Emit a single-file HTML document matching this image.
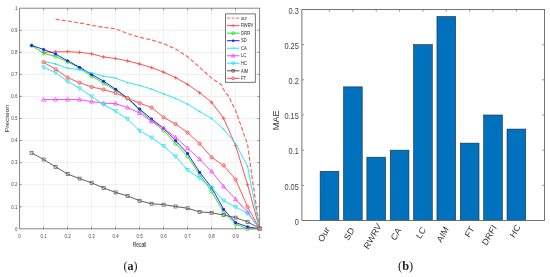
<!DOCTYPE html><html><head><meta charset="utf-8"><title>Figure</title>
<style>html,body{margin:0;padding:0;background:#fff}svg{display:block}text{font-family:"Liberation Sans",sans-serif}.cap{font-family:"Liberation Serif",serif}</style></head><body>
<svg width="550" height="277" viewBox="0 0 550 277">
<defs><filter id="b" x="-5%" y="-5%" width="110%" height="110%"><feGaussianBlur stdDeviation="0.35"/></filter></defs><rect width="550" height="277" fill="#fff"/>
<g id="left" filter="url(#b)">
<path d="M43.60 8.2V228.8M19.6 206.74H259.6M67.60 8.2V228.8M19.6 184.68H259.6M91.60 8.2V228.8M19.6 162.62H259.6M115.60 8.2V228.8M19.6 140.56H259.6M139.60 8.2V228.8M19.6 118.50H259.6M163.60 8.2V228.8M19.6 96.44H259.6M187.60 8.2V228.8M19.6 74.38H259.6M211.60 8.2V228.8M19.6 52.32H259.6M235.60 8.2V228.8M19.6 30.26H259.6" stroke="#e6e6e6" stroke-width="0.6" fill="none"/>
<polyline points="55.60,19.23 67.60,20.99 79.60,22.98 91.60,25.19 103.60,27.39 115.60,28.72 127.60,33.57 139.60,37.32 151.60,39.97 163.60,43.61 175.60,49.10 187.60,56.73 199.60,67.32 211.60,78.13 221.44,84.97 223.60,89.49 228.64,96.44 235.60,110.56 247.60,144.53 252.40,179.50 259.60,228.80" fill="none" stroke="#ff5c5c" stroke-width="1.15" stroke-linejoin="round" stroke-dasharray="4 2.2"/>
<polyline points="43.60,52.32 55.60,51.88 67.60,51.66 79.60,52.32 91.60,53.86 103.60,56.95 115.60,58.50 127.60,60.92 139.60,64.01 151.60,67.61 163.60,72.17 175.60,77.69 187.60,84.42 199.60,92.69 211.60,102.29 223.60,118.28 235.60,145.50 247.60,184.68 259.60,228.80" fill="none" stroke="#ff4a4a" stroke-width="0.95" stroke-linejoin="round"/>
<path d="M41.70 52.32H45.50M43.60 50.42V54.22" stroke="#ff4a4a" stroke-width="0.8" fill="none"/><path d="M53.70 51.88H57.50M55.60 49.98V53.78" stroke="#ff4a4a" stroke-width="0.8" fill="none"/><path d="M65.70 51.66H69.50M67.60 49.76V53.56" stroke="#ff4a4a" stroke-width="0.8" fill="none"/><path d="M77.70 52.32H81.50M79.60 50.42V54.22" stroke="#ff4a4a" stroke-width="0.8" fill="none"/><path d="M89.70 53.86H93.50M91.60 51.96V55.76" stroke="#ff4a4a" stroke-width="0.8" fill="none"/><path d="M101.70 56.95H105.50M103.60 55.05V58.85" stroke="#ff4a4a" stroke-width="0.8" fill="none"/><path d="M113.70 58.50H117.50M115.60 56.60V60.40" stroke="#ff4a4a" stroke-width="0.8" fill="none"/><path d="M125.70 60.92H129.50M127.60 59.02V62.82" stroke="#ff4a4a" stroke-width="0.8" fill="none"/><path d="M137.70 64.01H141.50M139.60 62.11V65.91" stroke="#ff4a4a" stroke-width="0.8" fill="none"/><path d="M149.70 67.61H153.50M151.60 65.71V69.51" stroke="#ff4a4a" stroke-width="0.8" fill="none"/><path d="M161.70 72.17H165.50M163.60 70.27V74.07" stroke="#ff4a4a" stroke-width="0.8" fill="none"/><path d="M173.70 77.69H177.50M175.60 75.79V79.59" stroke="#ff4a4a" stroke-width="0.8" fill="none"/><path d="M185.70 84.42H189.50M187.60 82.52V86.32" stroke="#ff4a4a" stroke-width="0.8" fill="none"/><path d="M197.70 92.69H201.50M199.60 90.79V94.59" stroke="#ff4a4a" stroke-width="0.8" fill="none"/><path d="M209.70 102.29H213.50M211.60 100.39V104.19" stroke="#ff4a4a" stroke-width="0.8" fill="none"/><path d="M221.70 118.28H225.50M223.60 116.38V120.18" stroke="#ff4a4a" stroke-width="0.8" fill="none"/><path d="M233.70 145.50H237.50M235.60 143.60V147.40" stroke="#ff4a4a" stroke-width="0.8" fill="none"/><path d="M245.70 184.68H249.50M247.60 182.78V186.58" stroke="#ff4a4a" stroke-width="0.8" fill="none"/><path d="M257.70 228.80H261.50M259.60 226.90V230.70" stroke="#ff4a4a" stroke-width="0.8" fill="none"/>
<polyline points="31.60,45.48 43.60,53.20 55.60,56.51 67.60,61.81 79.60,68.20 91.60,76.01 103.60,83.20 115.60,90.26 127.60,98.20 139.60,110.34 151.60,120.93 163.60,130.41 175.60,143.65 187.60,156.38 199.60,174.53 211.60,191.30 223.60,212.25 235.60,224.08 247.60,228.80 259.60,228.80" fill="none" stroke="#20e020" stroke-width="0.95" stroke-linejoin="round"/>
<circle cx="31.60" cy="45.48" r="1.70" stroke="#20e020" stroke-width="0.8" fill="none"/><circle cx="43.60" cy="53.20" r="1.70" stroke="#20e020" stroke-width="0.8" fill="none"/><circle cx="55.60" cy="56.51" r="1.70" stroke="#20e020" stroke-width="0.8" fill="none"/><circle cx="67.60" cy="61.81" r="1.70" stroke="#20e020" stroke-width="0.8" fill="none"/><circle cx="79.60" cy="68.20" r="1.70" stroke="#20e020" stroke-width="0.8" fill="none"/><circle cx="91.60" cy="76.01" r="1.70" stroke="#20e020" stroke-width="0.8" fill="none"/><circle cx="103.60" cy="83.20" r="1.70" stroke="#20e020" stroke-width="0.8" fill="none"/><circle cx="115.60" cy="90.26" r="1.70" stroke="#20e020" stroke-width="0.8" fill="none"/><circle cx="127.60" cy="98.20" r="1.70" stroke="#20e020" stroke-width="0.8" fill="none"/><circle cx="139.60" cy="110.34" r="1.70" stroke="#20e020" stroke-width="0.8" fill="none"/><circle cx="151.60" cy="120.93" r="1.70" stroke="#20e020" stroke-width="0.8" fill="none"/><circle cx="163.60" cy="130.41" r="1.70" stroke="#20e020" stroke-width="0.8" fill="none"/><circle cx="175.60" cy="143.65" r="1.70" stroke="#20e020" stroke-width="0.8" fill="none"/><circle cx="187.60" cy="156.38" r="1.70" stroke="#20e020" stroke-width="0.8" fill="none"/><circle cx="199.60" cy="174.53" r="1.70" stroke="#20e020" stroke-width="0.8" fill="none"/><circle cx="211.60" cy="191.30" r="1.70" stroke="#20e020" stroke-width="0.8" fill="none"/><circle cx="223.60" cy="212.25" r="1.70" stroke="#20e020" stroke-width="0.8" fill="none"/><circle cx="235.60" cy="224.08" r="1.70" stroke="#20e020" stroke-width="0.8" fill="none"/><circle cx="247.60" cy="228.80" r="1.70" stroke="#20e020" stroke-width="0.8" fill="none"/><circle cx="259.60" cy="228.80" r="1.70" stroke="#20e020" stroke-width="0.8" fill="none"/>
<polyline points="31.60,45.48 43.60,49.45 55.60,54.08 67.60,60.79 79.60,67.19 91.60,74.38 103.60,81.22 115.60,89.16 127.60,98.20 139.60,109.08 151.60,119.10 163.60,128.21 175.60,140.56 187.60,153.58 199.60,172.19 211.60,187.66 223.60,209.17 235.60,222.62 247.60,226.81 259.60,228.80" fill="none" stroke="#2020ee" stroke-width="0.95" stroke-linejoin="round"/>
<circle cx="31.60" cy="45.48" r="1.50" fill="#2020ee"/><circle cx="43.60" cy="49.45" r="1.50" fill="#2020ee"/><circle cx="55.60" cy="54.08" r="1.50" fill="#2020ee"/><circle cx="67.60" cy="60.79" r="1.50" fill="#2020ee"/><circle cx="79.60" cy="67.19" r="1.50" fill="#2020ee"/><circle cx="91.60" cy="74.38" r="1.50" fill="#2020ee"/><circle cx="103.60" cy="81.22" r="1.50" fill="#2020ee"/><circle cx="115.60" cy="89.16" r="1.50" fill="#2020ee"/><circle cx="127.60" cy="98.20" r="1.50" fill="#2020ee"/><circle cx="139.60" cy="109.08" r="1.50" fill="#2020ee"/><circle cx="151.60" cy="119.10" r="1.50" fill="#2020ee"/><circle cx="163.60" cy="128.21" r="1.50" fill="#2020ee"/><circle cx="175.60" cy="140.56" r="1.50" fill="#2020ee"/><circle cx="187.60" cy="153.58" r="1.50" fill="#2020ee"/><circle cx="199.60" cy="172.19" r="1.50" fill="#2020ee"/><circle cx="211.60" cy="187.66" r="1.50" fill="#2020ee"/><circle cx="223.60" cy="209.17" r="1.50" fill="#2020ee"/><circle cx="235.60" cy="222.62" r="1.50" fill="#2020ee"/><circle cx="247.60" cy="226.81" r="1.50" fill="#2020ee"/><circle cx="259.60" cy="228.80" r="1.50" fill="#2020ee"/>
<polyline points="43.60,61.36 55.60,64.01 67.60,68.20 79.60,69.75 91.60,72.84 103.60,76.14 115.60,78.13 127.60,82.70 139.60,85.41 151.60,89.16 163.60,93.79 175.60,98.43 187.60,104.16 199.60,111.44 211.60,118.50 223.60,129.20 235.60,143.65 247.60,166.37 259.60,228.80" fill="none" stroke="#20e8f0" stroke-width="0.95" stroke-linejoin="round"/>
<circle cx="43.60" cy="61.36" r="0.90" fill="#20e8f0"/><circle cx="55.60" cy="64.01" r="0.90" fill="#20e8f0"/><circle cx="67.60" cy="68.20" r="0.90" fill="#20e8f0"/><circle cx="79.60" cy="69.75" r="0.90" fill="#20e8f0"/><circle cx="91.60" cy="72.84" r="0.90" fill="#20e8f0"/><circle cx="103.60" cy="76.14" r="0.90" fill="#20e8f0"/><circle cx="115.60" cy="78.13" r="0.90" fill="#20e8f0"/><circle cx="127.60" cy="82.70" r="0.90" fill="#20e8f0"/><circle cx="139.60" cy="85.41" r="0.90" fill="#20e8f0"/><circle cx="151.60" cy="89.16" r="0.90" fill="#20e8f0"/><circle cx="163.60" cy="93.79" r="0.90" fill="#20e8f0"/><circle cx="175.60" cy="98.43" r="0.90" fill="#20e8f0"/><circle cx="187.60" cy="104.16" r="0.90" fill="#20e8f0"/><circle cx="199.60" cy="111.44" r="0.90" fill="#20e8f0"/><circle cx="211.60" cy="118.50" r="0.90" fill="#20e8f0"/><circle cx="223.60" cy="129.20" r="0.90" fill="#20e8f0"/><circle cx="235.60" cy="143.65" r="0.90" fill="#20e8f0"/><circle cx="247.60" cy="166.37" r="0.90" fill="#20e8f0"/><circle cx="259.60" cy="228.80" r="0.90" fill="#20e8f0"/>
<polyline points="43.60,99.64 55.60,99.53 67.60,99.53 79.60,99.64 91.60,101.62 103.60,103.17 115.60,103.61 127.60,107.58 139.60,113.10 151.60,121.26 163.60,128.21 175.60,137.43 187.60,148.19 199.60,159.09 211.60,171.44 223.60,186.44 235.60,199.15 247.60,212.25 259.60,228.80" fill="none" stroke="#ff40ff" stroke-width="0.95" stroke-linejoin="round"/>
<path d="M41.70 101.16L45.50 101.16L43.60 97.55Z" stroke="#ff40ff" stroke-width="0.8" fill="none"/><path d="M53.70 101.05L57.50 101.05L55.60 97.44Z" stroke="#ff40ff" stroke-width="0.8" fill="none"/><path d="M65.70 101.05L69.50 101.05L67.60 97.44Z" stroke="#ff40ff" stroke-width="0.8" fill="none"/><path d="M77.70 101.16L81.50 101.16L79.60 97.55Z" stroke="#ff40ff" stroke-width="0.8" fill="none"/><path d="M89.70 103.14L93.50 103.14L91.60 99.53Z" stroke="#ff40ff" stroke-width="0.8" fill="none"/><path d="M101.70 104.69L105.50 104.69L103.60 101.08Z" stroke="#ff40ff" stroke-width="0.8" fill="none"/><path d="M113.70 105.13L117.50 105.13L115.60 101.52Z" stroke="#ff40ff" stroke-width="0.8" fill="none"/><path d="M125.70 109.10L129.50 109.10L127.60 105.49Z" stroke="#ff40ff" stroke-width="0.8" fill="none"/><path d="M137.70 114.62L141.50 114.62L139.60 111.01Z" stroke="#ff40ff" stroke-width="0.8" fill="none"/><path d="M149.70 122.78L153.50 122.78L151.60 119.17Z" stroke="#ff40ff" stroke-width="0.8" fill="none"/><path d="M161.70 129.73L165.50 129.73L163.60 126.12Z" stroke="#ff40ff" stroke-width="0.8" fill="none"/><path d="M173.70 138.95L177.50 138.95L175.60 135.34Z" stroke="#ff40ff" stroke-width="0.8" fill="none"/><path d="M185.70 149.71L189.50 149.71L187.60 146.10Z" stroke="#ff40ff" stroke-width="0.8" fill="none"/><path d="M197.70 160.61L201.50 160.61L199.60 157.00Z" stroke="#ff40ff" stroke-width="0.8" fill="none"/><path d="M209.70 172.96L213.50 172.96L211.60 169.35Z" stroke="#ff40ff" stroke-width="0.8" fill="none"/><path d="M221.70 187.96L225.50 187.96L223.60 184.35Z" stroke="#ff40ff" stroke-width="0.8" fill="none"/><path d="M233.70 200.67L237.50 200.67L235.60 197.06Z" stroke="#ff40ff" stroke-width="0.8" fill="none"/><path d="M245.70 213.78L249.50 213.78L247.60 210.16Z" stroke="#ff40ff" stroke-width="0.8" fill="none"/><path d="M257.70 230.32L261.50 230.32L259.60 226.71Z" stroke="#ff40ff" stroke-width="0.8" fill="none"/>
<polyline points="43.60,67.32 55.60,72.66 67.60,81.44 79.60,88.28 91.60,96.44 103.60,104.71 115.60,111.22 127.60,119.10 139.60,130.85 151.60,137.58 163.60,146.07 175.60,156.38 187.60,169.99 199.60,178.17 211.60,187.66 223.60,200.47 235.60,206.96 247.60,213.36 259.60,228.80" fill="none" stroke="#20e8f0" stroke-width="0.95" stroke-linejoin="round"/>
<path d="M41.70 65.80L45.50 65.80L43.60 69.41Z" stroke="#20e8f0" stroke-width="0.8" fill="none"/><path d="M53.70 71.14L57.50 71.14L55.60 74.75Z" stroke="#20e8f0" stroke-width="0.8" fill="none"/><path d="M65.70 79.92L69.50 79.92L67.60 83.53Z" stroke="#20e8f0" stroke-width="0.8" fill="none"/><path d="M77.70 86.76L81.50 86.76L79.60 90.37Z" stroke="#20e8f0" stroke-width="0.8" fill="none"/><path d="M89.70 94.92L93.50 94.92L91.60 98.53Z" stroke="#20e8f0" stroke-width="0.8" fill="none"/><path d="M101.70 103.19L105.50 103.19L103.60 106.80Z" stroke="#20e8f0" stroke-width="0.8" fill="none"/><path d="M113.70 109.70L117.50 109.70L115.60 113.31Z" stroke="#20e8f0" stroke-width="0.8" fill="none"/><path d="M125.70 117.58L129.50 117.58L127.60 121.19Z" stroke="#20e8f0" stroke-width="0.8" fill="none"/><path d="M137.70 129.33L141.50 129.33L139.60 132.94Z" stroke="#20e8f0" stroke-width="0.8" fill="none"/><path d="M149.70 136.06L153.50 136.06L151.60 139.67Z" stroke="#20e8f0" stroke-width="0.8" fill="none"/><path d="M161.70 144.55L165.50 144.55L163.60 148.16Z" stroke="#20e8f0" stroke-width="0.8" fill="none"/><path d="M173.70 154.86L177.50 154.86L175.60 158.47Z" stroke="#20e8f0" stroke-width="0.8" fill="none"/><path d="M185.70 168.47L189.50 168.47L187.60 172.08Z" stroke="#20e8f0" stroke-width="0.8" fill="none"/><path d="M197.70 176.65L201.50 176.65L199.60 180.26Z" stroke="#20e8f0" stroke-width="0.8" fill="none"/><path d="M209.70 186.14L213.50 186.14L211.60 189.75Z" stroke="#20e8f0" stroke-width="0.8" fill="none"/><path d="M221.70 198.95L225.50 198.95L223.60 202.56Z" stroke="#20e8f0" stroke-width="0.8" fill="none"/><path d="M233.70 205.44L237.50 205.44L235.60 209.05Z" stroke="#20e8f0" stroke-width="0.8" fill="none"/><path d="M245.70 211.84L249.50 211.84L247.60 215.45Z" stroke="#20e8f0" stroke-width="0.8" fill="none"/><path d="M257.70 227.28L261.50 227.28L259.60 230.89Z" stroke="#20e8f0" stroke-width="0.8" fill="none"/>
<polyline points="31.60,152.80 43.60,159.53 55.60,166.81 67.60,174.09 79.60,178.61 91.60,182.80 103.60,187.92 115.60,192.40 127.60,195.93 139.60,200.78 151.60,203.72 163.60,204.64 175.60,206.48 187.60,208.28 199.60,211.86 211.60,212.76 223.60,214.97 235.60,217.66 247.60,221.87 259.60,228.36" fill="none" stroke="#555555" stroke-width="0.95" stroke-linejoin="round"/>
<rect x="30.10" y="151.30" width="3.00" height="3.00" stroke="#555555" stroke-width="0.7" fill="none"/><rect x="42.10" y="158.03" width="3.00" height="3.00" stroke="#555555" stroke-width="0.7" fill="none"/><rect x="54.10" y="165.31" width="3.00" height="3.00" stroke="#555555" stroke-width="0.7" fill="none"/><rect x="66.10" y="172.59" width="3.00" height="3.00" stroke="#555555" stroke-width="0.7" fill="none"/><rect x="78.10" y="177.11" width="3.00" height="3.00" stroke="#555555" stroke-width="0.7" fill="none"/><rect x="90.10" y="181.30" width="3.00" height="3.00" stroke="#555555" stroke-width="0.7" fill="none"/><rect x="102.10" y="186.42" width="3.00" height="3.00" stroke="#555555" stroke-width="0.7" fill="none"/><rect x="114.10" y="190.90" width="3.00" height="3.00" stroke="#555555" stroke-width="0.7" fill="none"/><rect x="126.10" y="194.43" width="3.00" height="3.00" stroke="#555555" stroke-width="0.7" fill="none"/><rect x="138.10" y="199.28" width="3.00" height="3.00" stroke="#555555" stroke-width="0.7" fill="none"/><rect x="150.10" y="202.22" width="3.00" height="3.00" stroke="#555555" stroke-width="0.7" fill="none"/><rect x="162.10" y="203.14" width="3.00" height="3.00" stroke="#555555" stroke-width="0.7" fill="none"/><rect x="174.10" y="204.98" width="3.00" height="3.00" stroke="#555555" stroke-width="0.7" fill="none"/><rect x="186.10" y="206.78" width="3.00" height="3.00" stroke="#555555" stroke-width="0.7" fill="none"/><rect x="198.10" y="210.36" width="3.00" height="3.00" stroke="#555555" stroke-width="0.7" fill="none"/><rect x="210.10" y="211.26" width="3.00" height="3.00" stroke="#555555" stroke-width="0.7" fill="none"/><rect x="222.10" y="213.47" width="3.00" height="3.00" stroke="#555555" stroke-width="0.7" fill="none"/><rect x="234.10" y="216.16" width="3.00" height="3.00" stroke="#555555" stroke-width="0.7" fill="none"/><rect x="246.10" y="220.37" width="3.00" height="3.00" stroke="#555555" stroke-width="0.7" fill="none"/><rect x="258.10" y="226.86" width="3.00" height="3.00" stroke="#555555" stroke-width="0.7" fill="none"/>
<polyline points="43.60,62.25 55.60,69.13 67.60,77.60 79.60,82.76 91.60,86.95 103.60,89.54 115.60,93.02 127.60,98.20 139.60,103.06 151.60,107.58 163.60,117.29 175.60,124.02 187.60,132.62 199.60,143.65 211.60,157.33 223.60,165.49 235.60,179.50 247.60,206.96 259.60,228.80" fill="none" stroke="#ff4a4a" stroke-width="0.95" stroke-linejoin="round"/>
<circle cx="43.60" cy="62.25" r="1.60" stroke="#ff4a4a" stroke-width="0.8" fill="#ffb0b0"/><circle cx="55.60" cy="69.13" r="1.60" stroke="#ff4a4a" stroke-width="0.8" fill="#ffb0b0"/><circle cx="67.60" cy="77.60" r="1.60" stroke="#ff4a4a" stroke-width="0.8" fill="#ffb0b0"/><circle cx="79.60" cy="82.76" r="1.60" stroke="#ff4a4a" stroke-width="0.8" fill="#ffb0b0"/><circle cx="91.60" cy="86.95" r="1.60" stroke="#ff4a4a" stroke-width="0.8" fill="#ffb0b0"/><circle cx="103.60" cy="89.54" r="1.60" stroke="#ff4a4a" stroke-width="0.8" fill="#ffb0b0"/><circle cx="115.60" cy="93.02" r="1.60" stroke="#ff4a4a" stroke-width="0.8" fill="#ffb0b0"/><circle cx="127.60" cy="98.20" r="1.60" stroke="#ff4a4a" stroke-width="0.8" fill="#ffb0b0"/><circle cx="139.60" cy="103.06" r="1.60" stroke="#ff4a4a" stroke-width="0.8" fill="#ffb0b0"/><circle cx="151.60" cy="107.58" r="1.60" stroke="#ff4a4a" stroke-width="0.8" fill="#ffb0b0"/><circle cx="163.60" cy="117.29" r="1.60" stroke="#ff4a4a" stroke-width="0.8" fill="#ffb0b0"/><circle cx="175.60" cy="124.02" r="1.60" stroke="#ff4a4a" stroke-width="0.8" fill="#ffb0b0"/><circle cx="187.60" cy="132.62" r="1.60" stroke="#ff4a4a" stroke-width="0.8" fill="#ffb0b0"/><circle cx="199.60" cy="143.65" r="1.60" stroke="#ff4a4a" stroke-width="0.8" fill="#ffb0b0"/><circle cx="211.60" cy="157.33" r="1.60" stroke="#ff4a4a" stroke-width="0.8" fill="#ffb0b0"/><circle cx="223.60" cy="165.49" r="1.60" stroke="#ff4a4a" stroke-width="0.8" fill="#ffb0b0"/><circle cx="235.60" cy="179.50" r="1.60" stroke="#ff4a4a" stroke-width="0.8" fill="#ffb0b0"/><circle cx="247.60" cy="206.96" r="1.60" stroke="#ff4a4a" stroke-width="0.8" fill="#ffb0b0"/><circle cx="259.60" cy="228.80" r="1.60" stroke="#ff4a4a" stroke-width="0.8" fill="#ffb0b0"/>
<rect x="19.6" y="8.2" width="240.00000000000003" height="220.60000000000002" fill="none" stroke="#7a7a7a" stroke-width="0.9"/>
<path d="M43.60 228.8v-2.2M43.60 8.2v2.2M19.6 206.74h2.2M259.6 206.74h-2.2M67.60 228.8v-2.2M67.60 8.2v2.2M19.6 184.68h2.2M259.6 184.68h-2.2M91.60 228.8v-2.2M91.60 8.2v2.2M19.6 162.62h2.2M259.6 162.62h-2.2M115.60 228.8v-2.2M115.60 8.2v2.2M19.6 140.56h2.2M259.6 140.56h-2.2M139.60 228.8v-2.2M139.60 8.2v2.2M19.6 118.50h2.2M259.6 118.50h-2.2M163.60 228.8v-2.2M163.60 8.2v2.2M19.6 96.44h2.2M259.6 96.44h-2.2M187.60 228.8v-2.2M187.60 8.2v2.2M19.6 74.38h2.2M259.6 74.38h-2.2M211.60 228.8v-2.2M211.60 8.2v2.2M19.6 52.32h2.2M259.6 52.32h-2.2M235.60 228.8v-2.2M235.60 8.2v2.2M19.6 30.26h2.2M259.6 30.26h-2.2" stroke="#666" stroke-width="0.7" fill="none"/>
<text transform="translate(19.60 237.9) scale(0.85 1)" font-size="5.2" text-anchor="middle" fill="#444">0</text>
<text transform="translate(17.4 230.60) scale(0.85 1)" font-size="5.2" text-anchor="end" fill="#444">0</text>
<text transform="translate(43.60 237.9) scale(0.85 1)" font-size="5.2" text-anchor="middle" fill="#444">0.1</text>
<text transform="translate(17.4 208.54) scale(0.85 1)" font-size="5.2" text-anchor="end" fill="#444">0.1</text>
<text transform="translate(67.60 237.9) scale(0.85 1)" font-size="5.2" text-anchor="middle" fill="#444">0.2</text>
<text transform="translate(17.4 186.48) scale(0.85 1)" font-size="5.2" text-anchor="end" fill="#444">0.2</text>
<text transform="translate(91.60 237.9) scale(0.85 1)" font-size="5.2" text-anchor="middle" fill="#444">0.3</text>
<text transform="translate(17.4 164.42) scale(0.85 1)" font-size="5.2" text-anchor="end" fill="#444">0.3</text>
<text transform="translate(115.60 237.9) scale(0.85 1)" font-size="5.2" text-anchor="middle" fill="#444">0.4</text>
<text transform="translate(17.4 142.36) scale(0.85 1)" font-size="5.2" text-anchor="end" fill="#444">0.4</text>
<text transform="translate(139.60 237.9) scale(0.85 1)" font-size="5.2" text-anchor="middle" fill="#444">0.5</text>
<text transform="translate(17.4 120.30) scale(0.85 1)" font-size="5.2" text-anchor="end" fill="#444">0.5</text>
<text transform="translate(163.60 237.9) scale(0.85 1)" font-size="5.2" text-anchor="middle" fill="#444">0.6</text>
<text transform="translate(17.4 98.24) scale(0.85 1)" font-size="5.2" text-anchor="end" fill="#444">0.6</text>
<text transform="translate(187.60 237.9) scale(0.85 1)" font-size="5.2" text-anchor="middle" fill="#444">0.7</text>
<text transform="translate(17.4 76.18) scale(0.85 1)" font-size="5.2" text-anchor="end" fill="#444">0.7</text>
<text transform="translate(211.60 237.9) scale(0.85 1)" font-size="5.2" text-anchor="middle" fill="#444">0.8</text>
<text transform="translate(17.4 54.12) scale(0.85 1)" font-size="5.2" text-anchor="end" fill="#444">0.8</text>
<text transform="translate(235.60 237.9) scale(0.85 1)" font-size="5.2" text-anchor="middle" fill="#444">0.9</text>
<text transform="translate(17.4 32.06) scale(0.85 1)" font-size="5.2" text-anchor="end" fill="#444">0.9</text>
<text transform="translate(259.60 237.9) scale(0.85 1)" font-size="5.2" text-anchor="middle" fill="#444">1</text>
<text transform="translate(17.4 10.00) scale(0.85 1)" font-size="5.2" text-anchor="end" fill="#444">1</text>
<text transform="translate(139.5 246.8) scale(0.75 1)" font-size="6.6" text-anchor="middle" fill="#222">Recall</text>
<text transform="translate(9 118.7) rotate(-90) scale(1 0.85)" font-size="6.6" text-anchor="middle" fill="#222">Precision</text>
<rect x="225.4" y="13.9" width="29.900000000000006" height="68.39999999999999" fill="#fff" stroke="#555" stroke-width="0.8"/>
<path d="M227 18.10H239.5" stroke="#ff5c5c" stroke-width="1" stroke-dasharray="3 1.6" fill="none"/>
<text transform="translate(241 19.80) scale(0.8 1)" font-size="5.1" fill="#222">our</text>
<path d="M227 25.63H239.5" stroke="#ff4a4a" stroke-width="1" fill="none"/>
<path d="M231.58 25.63H234.81M233.20 24.02V27.25" stroke="#ff4a4a" stroke-width="0.8" fill="none"/>
<text transform="translate(241 27.33) scale(0.8 1)" font-size="5.1" fill="#222">RWRV</text>
<path d="M227 33.16H239.5" stroke="#20e020" stroke-width="1" fill="none"/>
<circle cx="233.20" cy="33.16" r="1.44" stroke="#20e020" stroke-width="0.8" fill="none"/>
<text transform="translate(241 34.86) scale(0.8 1)" font-size="5.1" fill="#222">DRFI</text>
<path d="M227 40.69H239.5" stroke="#2020ee" stroke-width="1" fill="none"/>
<circle cx="233.20" cy="40.69" r="1.27" fill="#2020ee"/>
<text transform="translate(241 42.39) scale(0.8 1)" font-size="5.1" fill="#222">SD</text>
<path d="M227 48.22H239.5" stroke="#20e8f0" stroke-width="1" fill="none"/>
<circle cx="233.20" cy="48.22" r="0.77" fill="#20e8f0"/>
<text transform="translate(241 49.92) scale(0.8 1)" font-size="5.1" fill="#222">CA</text>
<path d="M227 55.75H239.5" stroke="#ff40ff" stroke-width="1" fill="none"/>
<path d="M231.58 57.04L234.81 57.04L233.20 53.97Z" stroke="#ff40ff" stroke-width="0.8" fill="none"/>
<text transform="translate(241 57.45) scale(0.8 1)" font-size="5.1" fill="#222">LC</text>
<path d="M227 63.28H239.5" stroke="#20e8f0" stroke-width="1" fill="none"/>
<path d="M231.58 61.99L234.81 61.99L233.20 65.06Z" stroke="#20e8f0" stroke-width="0.8" fill="none"/>
<text transform="translate(241 64.98) scale(0.8 1)" font-size="5.1" fill="#222">HC</text>
<path d="M227 70.81H239.5" stroke="#555555" stroke-width="1" fill="none"/>
<rect x="231.92" y="69.53" width="2.55" height="2.55" stroke="#555555" stroke-width="0.7" fill="none"/>
<text transform="translate(241 72.51) scale(0.8 1)" font-size="5.1" fill="#222">AIM</text>
<path d="M227 78.34H239.5" stroke="#ff4a4a" stroke-width="1" fill="none"/>
<circle cx="233.20" cy="78.34" r="1.36" stroke="#ff4a4a" stroke-width="0.8" fill="#ffb0b0"/>
<text transform="translate(241 80.04) scale(0.8 1)" font-size="5.1" fill="#222">FT</text>
</g>
<g id="right">
<rect x="320.15" y="171.27" width="18.7" height="49.23" fill="#0072bd" stroke="#1a2a3a" stroke-width="0.6"/>
<rect x="343.51" y="86.87" width="18.7" height="133.63" fill="#0072bd" stroke="#1a2a3a" stroke-width="0.6"/>
<rect x="366.87" y="157.20" width="18.7" height="63.30" fill="#0072bd" stroke="#1a2a3a" stroke-width="0.6"/>
<rect x="390.23" y="150.17" width="18.7" height="70.33" fill="#0072bd" stroke="#1a2a3a" stroke-width="0.6"/>
<rect x="413.59" y="44.67" width="18.7" height="175.83" fill="#0072bd" stroke="#1a2a3a" stroke-width="0.6"/>
<rect x="436.95" y="16.53" width="18.7" height="203.97" fill="#0072bd" stroke="#1a2a3a" stroke-width="0.6"/>
<rect x="460.31" y="143.13" width="18.7" height="77.37" fill="#0072bd" stroke="#1a2a3a" stroke-width="0.6"/>
<rect x="483.67" y="115.00" width="18.7" height="105.50" fill="#0072bd" stroke="#1a2a3a" stroke-width="0.6"/>
<rect x="507.03" y="129.07" width="18.7" height="91.43" fill="#0072bd" stroke="#1a2a3a" stroke-width="0.6"/>
<rect x="301.9" y="9.5" width="242.60000000000002" height="211.0" fill="none" stroke="#666" stroke-width="0.9"/>
<path d="M329.50 220.5v-2.2M329.50 9.5v2.2M352.86 220.5v-2.2M352.86 9.5v2.2M376.22 220.5v-2.2M376.22 9.5v2.2M399.58 220.5v-2.2M399.58 9.5v2.2M422.94 220.5v-2.2M422.94 9.5v2.2M446.30 220.5v-2.2M446.30 9.5v2.2M469.66 220.5v-2.2M469.66 9.5v2.2M493.02 220.5v-2.2M493.02 9.5v2.2M516.38 220.5v-2.2M516.38 9.5v2.2M301.9 185.33h2.2M544.5 185.33h-2.2M301.9 150.17h2.2M544.5 150.17h-2.2M301.9 115.00h2.2M544.5 115.00h-2.2M301.9 79.83h2.2M544.5 79.83h-2.2M301.9 44.67h2.2M544.5 44.67h-2.2" stroke="#666" stroke-width="0.7" fill="none"/>
<text transform="translate(298.8 224.80) scale(0.9 1)" font-size="8.2" text-anchor="end" fill="#444">0</text>
<text transform="translate(298.8 189.63) scale(0.9 1)" font-size="8.2" text-anchor="end" fill="#444">0.05</text>
<text transform="translate(298.8 154.47) scale(0.9 1)" font-size="8.2" text-anchor="end" fill="#444">0.1</text>
<text transform="translate(298.8 119.30) scale(0.9 1)" font-size="8.2" text-anchor="end" fill="#444">0.15</text>
<text transform="translate(298.8 84.13) scale(0.9 1)" font-size="8.2" text-anchor="end" fill="#444">0.2</text>
<text transform="translate(298.8 48.97) scale(0.9 1)" font-size="8.2" text-anchor="end" fill="#444">0.25</text>
<text transform="translate(298.8 13.80) scale(0.9 1)" font-size="8.2" text-anchor="end" fill="#444">0.3</text>
<text transform="translate(323.80 234.25) scale(0.9 1) rotate(-58)" font-size="9.4" text-anchor="middle" dy="3.3" fill="#333">Our</text>
<text transform="translate(349.16 233.88) scale(0.9 1) rotate(-58)" font-size="9.4" text-anchor="middle" dy="3.3" fill="#333">SD</text>
<text transform="translate(372.52 236.12) scale(0.9 1) rotate(-58)" font-size="9.4" text-anchor="middle" dy="3.3" fill="#333">RWRV</text>
<text transform="translate(395.88 233.88) scale(0.9 1) rotate(-58)" font-size="9.4" text-anchor="middle" dy="3.3" fill="#333">CA</text>
<text transform="translate(420.74 232.73) scale(0.9 1) rotate(-58)" font-size="9.4" text-anchor="middle" dy="3.3" fill="#333">LC</text>
<text transform="translate(442.60 234.40) scale(0.9 1) rotate(-58)" font-size="9.4" text-anchor="middle" dy="3.3" fill="#333">AIM</text>
<text transform="translate(469.46 231.65) scale(0.9 1) rotate(-58)" font-size="9.4" text-anchor="middle" dy="3.3" fill="#333">FT</text>
<text transform="translate(489.32 235.15) scale(0.9 1) rotate(-58)" font-size="9.4" text-anchor="middle" dy="3.3" fill="#333">DRFI</text>
<text transform="translate(514.88 230.95) scale(0.9 1) rotate(-58)" font-size="9.4" text-anchor="middle" dy="3.3" fill="#333">HC</text>
<text transform="translate(279.4 120.3) rotate(-90)" font-size="9.2" text-anchor="middle" fill="#333">MAE</text>
</g>
<text class="cap" x="130.6" y="269.9" font-size="12" text-anchor="middle" fill="#222">(<tspan font-weight="bold">a</tspan>)</text>
<text class="cap" x="405.6" y="269.9" font-size="12.4" text-anchor="middle" fill="#222">(<tspan font-weight="bold">b</tspan>)</text>
</svg></body></html>
